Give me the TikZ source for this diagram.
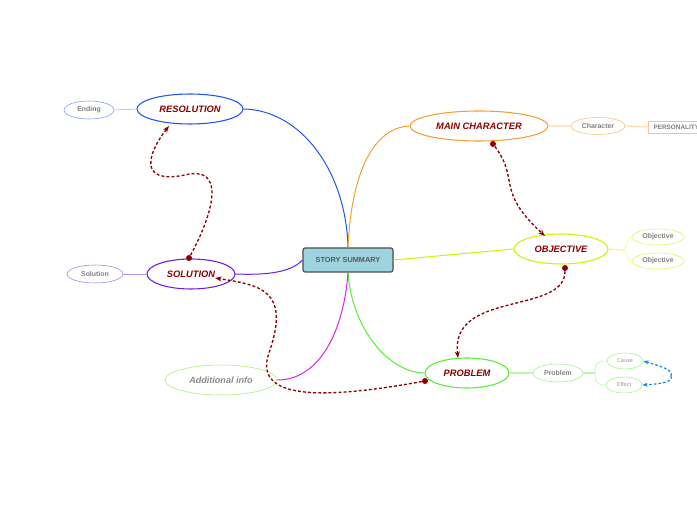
\documentclass[tikz,border=0pt]{standalone}
\usepackage{fontspec}
\setmainfont{Liberation Sans}
\usetikzlibrary{shapes.geometric,arrows.meta}
\definecolor{dred}{HTML}{8B0000}
\definecolor{cblue}{HTML}{1D56F0}
\definecolor{corange}{HTML}{F4A030}
\definecolor{cyel}{HTML}{D4F000}
\definecolor{cgreen}{HTML}{55EE33}
\definecolor{cpurp}{HTML}{6A1DE6}
\definecolor{cmag}{HTML}{E020E8}
\definecolor{clgreen}{HTML}{A6F060}
\definecolor{cfill}{HTML}{9ED3E0}
\begin{document}
\begin{tikzpicture}[x=0.75pt,y=-0.75pt,
 main/.style={ellipse,draw,line width=0.8pt,inner sep=0,text=dred,font=\bfseries\itshape\fontsize{7}{8}\selectfont},
 sub/.style={ellipse,draw,inner sep=0,text=gray,font=\bfseries\fontsize{5.2}{6}\selectfont},
 tiny/.style={ellipse,draw,inner sep=0,text=gray!80,font=\fontsize{4.2}{5}\selectfont},
 link/.style={line width=0.75pt},
 rel/.style={dred,line width=1pt,dash pattern=on 2.2pt off 1.6pt},
 dot/.style={circle,fill=dred,inner sep=0,minimum size=4.5pt}]
\useasboundingbox (0,0) rectangle (697,520);
\node[draw=black!70,fill=cfill,rounded corners=1.5pt,minimum width=67.5pt,minimum height=18pt,line width=0.8pt,text=gray!70!black,font=\bfseries\fontsize{5.5}{6}\selectfont] (c) at (348,260) {STORY SUMMARY};
\node[main,draw=corange,minimum width=103.5pt,minimum height=22.5pt] (mc) at (479,126) {MAIN CHARACTER};
\node[sub,draw=corange!70,minimum width=40.5pt,minimum height=12.75pt] (ch) at (598,126) {Character};
\node[draw=corange!60,text=gray,font=\bfseries\fontsize{4.8}{5}\selectfont,minimum width=42pt,minimum height=9pt,inner sep=1pt,anchor=west] (pe) at (648,127) {PERSONALITY};
\node[main,draw=cyel,minimum width=70.5pt,minimum height=22.5pt] (ob) at (561,249) {OBJECTIVE};
\node[sub,draw=cyel!70,minimum width=39pt,minimum height=12pt] (o1) at (658,237) {Objective};
\node[sub,draw=cyel!70,minimum width=39pt,minimum height=12pt] (o2) at (658,261) {Objective};
\node[main,draw=cgreen,minimum width=63pt,minimum height=22.5pt] (pr) at (467,373) {PROBLEM};
\node[sub,draw=cgreen!60,minimum width=37.5pt,minimum height=13.5pt] (p2) at (558,373) {Problem};
\node[tiny,draw=cgreen!60,minimum width=27pt,minimum height=12pt] (ca) at (625,361) {Cause};
\node[tiny,draw=cgreen!60,minimum width=27pt,minimum height=12pt] (ef) at (624,385) {Effect};
\node[ellipse,draw=clgreen,inner sep=0,minimum width=84pt,minimum height=22.5pt,text=gray!90,font=\itshape\bfseries\fontsize{6.8}{8}\selectfont] (ad) at (221,380) {Additional info};
\node[main,draw=cpurp,minimum width=66pt,minimum height=22.5pt] (so) at (191,274) {SOLUTION};
\node[sub,draw=cpurp!60,minimum width=42pt,minimum height=13.5pt] (s2) at (95,274) {Solution};
\node[main,draw=cblue,minimum width=79.5pt,minimum height=22.5pt] (re) at (190,109) {RESOLUTION};
\node[sub,draw=cblue!60,minimum width=37.5pt,minimum height=13.5pt] (en) at (89,110) {Ending};
% center links
\draw[link,cblue] (c.north) .. controls (346,170) and (300,110) .. (re.east);
\draw[link,corange] (c.north) .. controls (352,160) and (380,127) .. (mc.west);
\draw[link,cyel] (c.east) -- (ob.west);
\draw[link,cgreen] (c.south) .. controls (352,330) and (390,373) .. (pr.west);
\draw[link,cmag] (c.south) .. controls (344,330) and (320,380) .. (ad.east);
\draw[link,cpurp] (c.west) .. controls (290,274) and (260,275) .. (so.east);
% sub links
\draw[corange!40,line width=0.8pt] (mc.east) -- (ch.west) (ch.east) -- (pe.west);
\draw[cyel!50,line width=0.8pt] (ob.east) -- (622,250);
\draw[cyel!50] (622,250) .. controls (628,250) and (626,237) .. (o1.west) (622,250) .. controls (628,250) and (626,261) .. (o2.west);
\draw[cgreen!40,line width=0.8pt] (pr.east) -- (p2.west) (p2.east) -- (595,373);
\draw[cgreen!50] (595,373) .. controls (595,361) and (600,361) .. (ca.west) (595,373) .. controls (595,385) and (600,385) .. (ef.west);
\draw[cpurp!50] (so.west) -- (s2.east);
\draw[cblue!50] (re.west) -- (en.east);
% relations
\coordinate (cx) at (671,376);
\draw[cblue!70!cyan,line width=0.9pt,dash pattern=on 2pt off 1.5pt,-{Stealth[length=4pt]}] (cx) .. controls (674,370) and (660,366) .. (ca.east);
\draw[cblue!70!cyan,line width=0.9pt,dash pattern=on 2pt off 1.5pt,-{Stealth[length=4pt]}] (cx) .. controls (674,382) and (660,384) .. (ef.east);
\node[dot] (d1) at (493,144) {};
\draw[rel,-{Stealth[length=5pt]}] (d1) .. controls (520,180) and (495,190) .. (545,236);
\node[dot] (d2) at (565,268) {};
\draw[rel,-{Stealth[length=5pt]}] (d2) .. controls (565,315) and (450,290) .. (458,358);
\node[dot] (d3) at (425,381) {};
\draw[rel,-{Stealth[length=5pt]}] (d3) .. controls (320,400) and (250,400) .. (270,350) .. controls (290,290) and (260,285) .. (215,278);
\node[dot] (d4) at (189,258) {};
\draw[rel,-{Stealth[length=5pt]}] (d4) .. controls (215,210) and (225,165) .. (185,175) .. controls (135,185) and (150,150) .. (169,126);
\end{tikzpicture}
\end{document}
